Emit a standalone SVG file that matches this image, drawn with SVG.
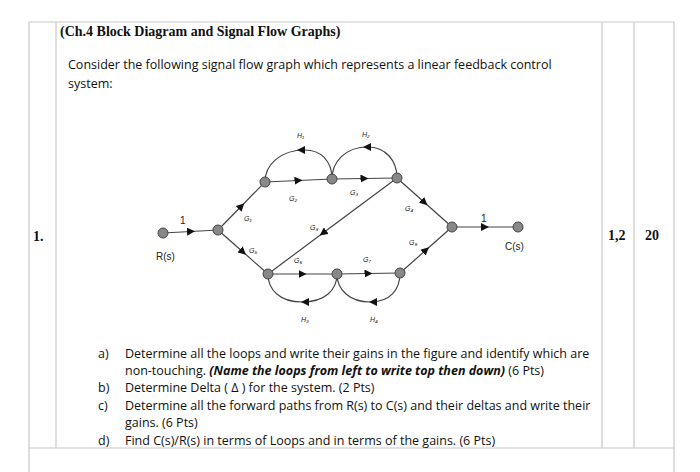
<svg xmlns="http://www.w3.org/2000/svg" width="700" height="472" viewBox="0 0 700 472">
<style>
.t{font-family:"Liberation Serif",serif;font-weight:bold;font-size:14px;fill:#111}
.b{font-family:"Open Sans","Noto Sans",sans-serif;font-size:12.5px;fill:#111}
.g{font-family:"Liberation Sans",Arial,sans-serif;font-size:7px;font-style:italic;fill:#222}
.l{font-family:"Liberation Sans",Arial,sans-serif;font-size:10px;fill:#222}
.grid{stroke:#c8c8c8;stroke-width:1.2;fill:none}
.e{stroke:#444;stroke-width:1.2;fill:none}
.n{fill:#888;stroke:#444;stroke-width:1}
</style>
<defs><marker id="a" markerWidth="8" markerHeight="8" refX="4" refY="4" orient="auto" markerUnits="userSpaceOnUse"><path d="M0,0L8,4L0,8Z" fill="#111"/></marker></defs>
<rect width="700" height="472" fill="#fff"/>
<g class="grid">
<path d="M29,22H674M29,448H674M29,22V472M56,22V448M602,22V448M634,22V448M674,22V472"/>
</g>
<text class="t" x="60" y="36">(Ch.4 Block Diagram and Signal Flow Graphs)</text>
<text class="b" x="68" y="69">Consider the following signal flow graph which represents a linear feedback control</text>
<text class="b" x="68" y="88">system:</text>
<text class="t" x="33" y="241" font-size="12">1.</text>
<text class="t" x="608" y="240" font-size="12">1,2</text>
<text class="t" x="645" y="240" font-size="12">20</text>
<g id="connectors">
<path class="e" d="M163,233L191,231.5L218,230" marker-mid="url(#a)"/>
<path class="e" d="M218,230L241.5,206L265,182" marker-mid="url(#a)"/>
<path class="e" d="M265,182L298.5,180.5L332,179" marker-mid="url(#a)"/>
<path class="e" d="M332,179L364.5,178.5L397,178" marker-mid="url(#a)"/>
<path class="e" d="M397,178L424.5,202.5L452,227" marker-mid="url(#a)"/>
<path class="e" d="M452,227L485,227L518,227" marker-mid="url(#a)"/>
<path class="e" d="M218,230L243,252L268,274" marker-mid="url(#a)"/>
<path class="e" d="M268,274L302.5,274L337,274" marker-mid="url(#a)"/>
<path class="e" d="M337,274L368.5,273.5L400,273" marker-mid="url(#a)"/>
<path class="e" d="M400,273L426,250L452,227" marker-mid="url(#a)"/>
<path class="e" d="M397,178L323,233L268,274" marker-mid="url(#a)"/>
<path class="e" d="M332,179C332,160 320,150 305,150C280,150 265,165 265,182"/>
<path class="e" d="M397,178C397,160 385,147 368,147C345,147 332,162 332,179"/>
<path class="e" d="M268,274C268,290 280,302 302,302C325,302 337,290 337,274"/>
<path class="e" d="M337,274C337,290 350,302 370,302C390,302 400,290 400,273"/>
<path d="M297,150L305,146V154Z" fill="#111"/>
<path d="M363,147L371,143V151Z" fill="#111"/>
<path d="M301,302L309,298V306Z" fill="#111"/>
<path d="M369,302L377,298V306Z" fill="#111"/>
</g>
<g id="nodes">
<circle id="R" class="n" cx="163" cy="233" r="5"/>
<circle id="n1" class="n" cx="218" cy="230" r="5"/>
<circle id="n2" class="n" cx="265" cy="182" r="5"/>
<circle id="n3" class="n" cx="332" cy="179" r="5"/>
<circle id="n4" class="n" cx="397" cy="178" r="5"/>
<circle id="n5" class="n" cx="268" cy="274" r="5"/>
<circle id="n6" class="n" cx="337" cy="274" r="5"/>
<circle id="n7" class="n" cx="400" cy="273" r="5"/>
<circle id="n8" class="n" cx="452" cy="227" r="5"/>
<circle id="C" class="n" cx="518" cy="227" r="5"/>
</g>
<g id="labels">
<text class="l" x="180" y="224">1</text>
<text class="l" x="481" y="222">1</text>
<text class="l" x="156" y="260">R(s)</text>
<text class="l" x="505" y="250">C(s)</text>
<text class="g" x="297" y="138">H₁</text>
<text class="g" x="362" y="137">H₂</text>
<text class="g" x="301" y="322">H₃</text>
<text class="g" x="370" y="322">H₄</text>
<text class="g" x="244" y="221">G₁</text>
<text class="g" x="289" y="201">G₂</text>
<text class="g" x="350" y="195">G₃</text>
<text class="g" x="405" y="211">G₄</text>
<text class="g" x="249" y="253">G₅</text>
<text class="g" x="294" y="263">G₆</text>
<text class="g" x="363" y="262">G₇</text>
<text class="g" x="409" y="245">G₈</text>
<text class="g" x="310" y="230">G₉</text>
</g>
<g class="b">
<text x="98" y="358">a)</text><text x="125" y="358">Determine all the loops and write their gains in the figure and identify which are</text>
<text x="125" y="375">non-touching. <tspan font-weight="bold" font-style="italic">(Name the loops from left to write top then down)</tspan> (6 Pts)</text>
<text x="98" y="392">b)</text><text x="125" y="392">Determine Delta ( Δ ) for the system. (2 Pts)</text>
<text x="98" y="410">c)</text><text x="125" y="410">Determine all the forward paths from R(s) to C(s) and their deltas and write their</text>
<text x="125" y="427">gains. (6 Pts)</text>
<text x="98" y="445">d)</text><text x="125" y="445">Find C(s)/R(s) in terms of Loops and in terms of the gains. (6 Pts)</text>
</g>
</svg>
